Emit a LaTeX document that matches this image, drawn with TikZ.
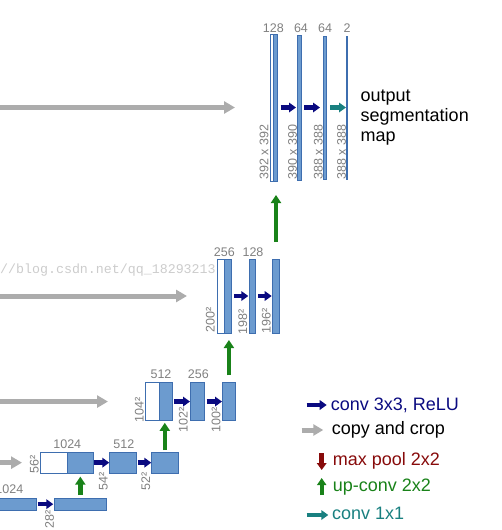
\documentclass[tikz,border=0pt]{standalone}
\usepackage{fontspec}
\setmainfont{Liberation Sans}
\newfontfamily\markfont{Liberation Mono}
\usetikzlibrary{arrows.meta}
\definecolor{boxfill}{RGB}{108,155,207}
\definecolor{boxline}{RGB}{62,110,175}
\definecolor{convcol}{RGB}{10,10,128}
\definecolor{copycol}{RGB}{172,172,172}
\definecolor{poolcol}{RGB}{135,10,10}
\definecolor{upcol}{RGB}{25,130,25}
\definecolor{onecol}{RGB}{25,128,128}
\definecolor{numcol}{RGB}{128,128,128}

\begin{document}
\begin{tikzpicture}[x=1pt,y=-1pt,
  fmap/.style={draw=boxline,line width=0.8pt,fill=boxfill,inner sep=0pt,outer sep=0pt,anchor=north west},
  chan/.style={text=numcol,font=\fontsize{12.5}{14}\selectfont,inner sep=0pt,anchor=south},
  dimtext/.style={chan,rotate=90,anchor=west},
  convarr/.style={draw=convcol,line width=4.5pt,-{Triangle[length=7pt,width=9.5pt]}},
  onearr/.style={convarr,draw=onecol},
  poolarr/.style={convarr,draw=poolcol},
  uparr/.style={convarr,draw=upcol,line width=4.5pt,-{Triangle[length=8pt,width=10pt]}},
  copyarr/.style={draw=copycol,line width=5pt,-{Triangle[length=11pt,width=12pt]}},
  legtext/.style={font=\fontsize{18}{20}\selectfont,inner sep=0pt,anchor=base west}]
\path[use as bounding box] (0,0) rectangle (502,530);
\clip (0,0) rectangle (502,530);
\node[font=\markfont\fontsize{13.3}{15}\selectfont,text=black!20,inner sep=0pt,anchor=west] (mark) at (0,270) {//blog.csdn.net/qq\_18293213};
\foreach \n/\x/\y/\w/\h in {c128/270/34/3.4/147,c256/217.7/259/6.6/74,c512/145.7/382.3/13.6/38.5,c1024/40.3/452/27/21.3}
  \node[fmap,fill=white,minimum width=\w pt,minimum height=\h pt] (\n) at (\x,\y) {};
\foreach \n/\x/\y/\w/\h in {f128/273.4/34/3.9/147,f64a/297/35/4.5/145,f64b/323.3/36/3.4/143,f2/346/36/1.6/143,
  f256/224.3/259/7.4/74,f128b/249.3/259/6.4/74,f128c/272.7/259/6.6/74,
  f512/159.3/382.3/13.4/38.5,f256b/190/382.3/14/38.5,f256c/222.3/382.3/13.2/38.5,
  f1024/67.3/452/26/21.3,f512b/109.3/452/27.4/21.3,f512c/151.3/452/27/21.3,
  f1024a/-16/498.3/52.7/11.7,f1024b/54/498.3/52.7/11.7}
  \node[fmap,minimum width=\w pt,minimum height=\h pt] (\n) at (\x,\y) {};
\node[chan] (n128) at ([shift={(0,-1.5)}]f128.north west) {128};
\node[chan] (n64a) at ([shift={(1.7,-2.5)}]f64a.north) {64};
\node[chan] (n64b) at ([shift={(0,-3.5)}]f64b.north) {64};
\node[chan] (n2) at ([shift={(0.2,-3.5)}]f2.north) {2};
\node[chan] (n256) at ([shift={(0,-2.3)}]f256.north west) {256};
\node[chan] (n128b) at ([shift={(0.5,-2.3)}]f128b.north) {128};
\node[chan] (n512) at ([shift={(1.7,-3)}]f512.north west) {512};
\node[chan] (n256b) at ([shift={(1.3,-3)}]f256b.north) {256};
\node[chan] (n1024) at ([shift={(0,-3)}]f1024.north west) {1024};
\node[chan] (n512b) at ([shift={(0.8,-3)}]f512b.north) {512};
\node[chan] (n1024b) at ([shift={(-1,-4)}]f1024a.north) {1024};
\foreach \n/\b/\dx/\dy/\t in {392/c128/-6/-1/392 x 392,390/f64a/-4.5/0/390 x 390,388a/f64b/-5/1/388 x 388,388b/f2/-4.5/1/388 x 388,
  200/c256/-7.5/0/200²,198/f128b/-6.5/1.5/198²,196/f128c/-6.5/1/196²,
  104/c512/-6.3/2/104²,102/f256b/-6.7/12/102²,100/f256c/-6.3/12/100²,
  56/c1024/-6/0/56²,54/f512b/-6/17/54²,52/f512c/-5.5/17/52²,28/f1024b/-4.5/19/28²}
  \node[dimtext] (d\n) at ([shift={(\dx,\dy)}]\b.south west) {\t};
\foreach \a/\b/\s/\e in {f128/f64a/3.4/1,f64a/f64b/2.8/3.3,f256/f128b/2.6/1,f128b/f128c/2.6/1,
  f512/f256b/1.6/0,f256b/f256c/2.7/0.3,f1024/f512b/1/0,f512b/f512c/1/0,f1024a/f1024b/1/0.7}
  \draw[convarr,shorten <=\s pt,shorten >=\e pt] (\a.east) -- (\b.west);
\draw[onearr,shorten <=3.3pt] (f64b.east) -- (f2.west);
\coordinate (k1) at (0,107.5);
\coordinate (k2) at (0,296);
\coordinate (k3) at (0,401.55);
\coordinate (k4) at (0,462.65);
\foreach \k/\b/\e in {k1/c128/35,k2/c256/30.7,k3/c512/37.7,k4/c1024/18.3}
  \draw[copyarr,shorten >=\e pt] (\k) -- (\b.west);
\foreach \a/\b/\s/\e in {f128c/f128/17/14,f256c/f256/7/7,f512c/f512/2/2,f1024b/f1024/3.3/3.3}
  \draw[uparr,shorten <=\s pt,shorten >=\e pt] (\a.north) -- (\a.north |- \b.south);
\node[legtext,anchor=west,align=left] (outtxt) at (360.5,117.3) {output\\segmentation\\map};
\coordinate (l1a) at (306.7,405); \coordinate (l1b) at (326.7,405);
\coordinate (l2a) at (301.7,430); \coordinate (l2b) at (323.3,430);
\coordinate (l3a) at (321.7,453); \coordinate (l3b) at (321.7,470);
\coordinate (l4a) at (321.7,495); \coordinate (l4b) at (321.7,478);
\coordinate (l5a) at (306.7,515); \coordinate (l5b) at (328.3,515);
\draw[convarr] (l1a) -- (l1b);
\draw[copyarr,-{Triangle[length=10pt,width=11pt]}] (l2a) -- (l2b);
\draw[poolarr] (l3a) -- (l3b);
\draw[uparr,line width=4pt,-{Triangle[length=7pt,width=9pt]}] (l4a) -- (l4b);
\draw[onearr] (l5a) -- (l5b);
\node[legtext,text=convcol] (t1) at (330.7,410.5) {conv 3x3, ReLU};
\node[legtext] (t2) at (331.7,434.5) {copy and crop};
\node[legtext,text=poolcol] (t3) at (332.7,465) {max pool 2x2};
\node[legtext,text=upcol] (t4) at (332.7,491) {up-conv 2x2};
\node[legtext,text=onecol] (t5) at (332,519) {conv 1x1};
\end{tikzpicture}
\end{document}
